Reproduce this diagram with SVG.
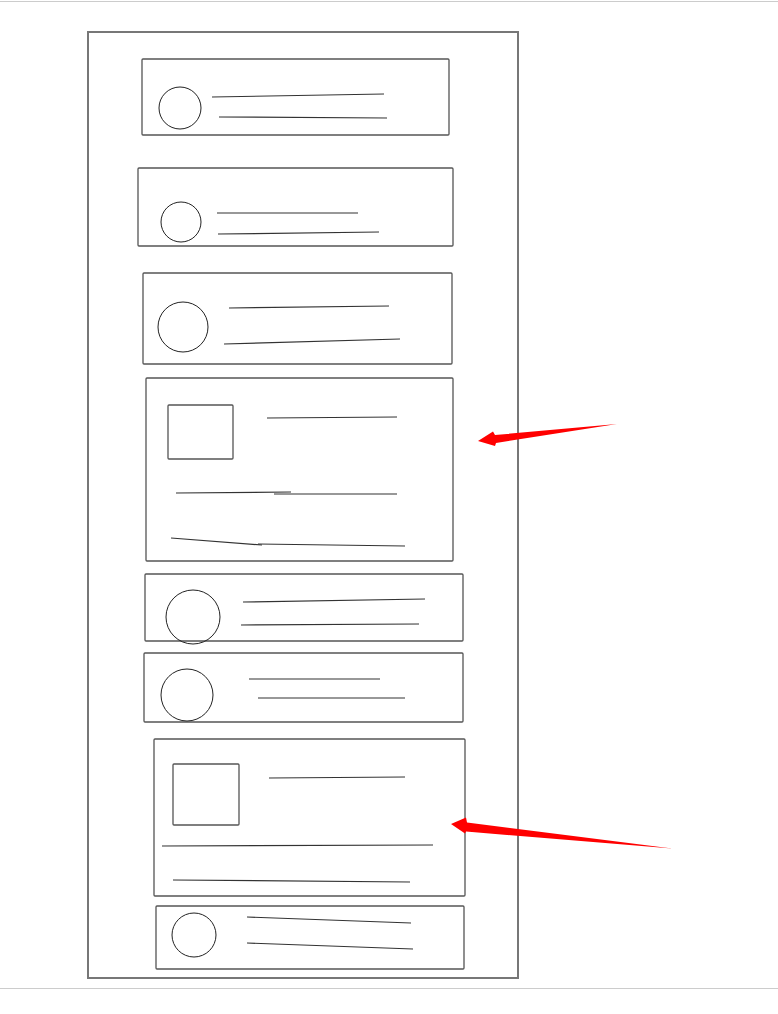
<svg xmlns="http://www.w3.org/2000/svg" width="778" height="1014" viewBox="0 0 778 1014">
<style>
.card{fill:none;stroke:#555;stroke-width:1.3}
.av{fill:none;stroke:#222;stroke-width:1}
.ln{stroke:#333;stroke-width:1.2;fill:none}
.arr{fill:#ff0000;stroke:none}
</style>
<rect width="778" height="1014" fill="#fff"/>
<line x1="0" y1="1.5" x2="778" y2="1.5" stroke="#ccc" stroke-width="1"/>
<line x1="0" y1="988.5" x2="778" y2="988.5" stroke="#ccc" stroke-width="1"/>
<g id="frame"><rect x="88" y="32" width="430" height="946" fill="none" stroke="#777" stroke-width="2"/></g>
<g id="card1"><rect class="card" x="142" y="59" width="307" height="76" rx="1"/><circle class="av" cx="180" cy="108" r="21"/><line class="ln" x1="212" y1="97" x2="384" y2="94"/><line class="ln" x1="219" y1="117" x2="387" y2="118"/></g>
<g id="card2"><rect class="card" x="138" y="168" width="315" height="78" rx="1"/><circle class="av" cx="181" cy="222" r="20"/><line class="ln" x1="217" y1="213" x2="358" y2="213"/><line class="ln" x1="218" y1="234" x2="379" y2="232"/></g>
<g id="card3"><rect class="card" x="143" y="273" width="309" height="91" rx="1"/><circle class="av" cx="183" cy="327" r="25"/><line class="ln" x1="229" y1="308" x2="389" y2="306"/><line class="ln" x1="224" y1="344" x2="400" y2="339"/></g>
<g id="card4"><rect class="card" x="146" y="378" width="307" height="183" rx="1"/><rect class="card" x="168" y="405" width="65" height="54" rx="1"/><line class="ln" x1="267" y1="418" x2="397" y2="417"/><line class="ln" x1="176" y1="493" x2="291" y2="492"/><line class="ln" x1="274" y1="494" x2="397" y2="494"/><line class="ln" x1="171" y1="538" x2="262" y2="545"/><line class="ln" x1="258" y1="544" x2="405" y2="546"/></g>
<g id="card5"><rect class="card" x="145" y="574" width="318" height="67" rx="1"/><circle class="av" cx="193" cy="617" r="27"/><line class="ln" x1="243" y1="602" x2="425" y2="599"/><line class="ln" x1="241" y1="625" x2="419" y2="624"/></g>
<g id="card6"><rect class="card" x="144" y="653" width="319" height="69" rx="1"/><circle class="av" cx="187" cy="695" r="26"/><line class="ln" x1="249" y1="679" x2="380" y2="679"/><line class="ln" x1="258" y1="698" x2="405" y2="698"/></g>
<g id="card7"><rect class="card" x="154" y="739" width="311" height="157" rx="1"/><rect class="card" x="173" y="764" width="66" height="61" rx="1"/><line class="ln" x1="269" y1="778" x2="405" y2="777"/><line class="ln" x1="162" y1="846" x2="433" y2="845"/><line class="ln" x1="173" y1="880" x2="410" y2="882"/></g>
<g id="card8"><rect class="card" x="156" y="906" width="308" height="63" rx="1"/><circle class="av" cx="194" cy="935" r="22"/><line class="ln" x1="247" y1="917" x2="411" y2="923"/><line class="ln" x1="247" y1="943" x2="413" y2="949"/></g>
<g id="connectors">
<path class="arr" d="M617,424 L495,435 L493,431.5 L478,441 L495,446 L496,443 Z"/>
<path class="arr" d="M672,848.5 L467,822.5 L466,817.5 L451,824 L465,833.5 L466,831.5 Z"/>
</g>
</svg>
